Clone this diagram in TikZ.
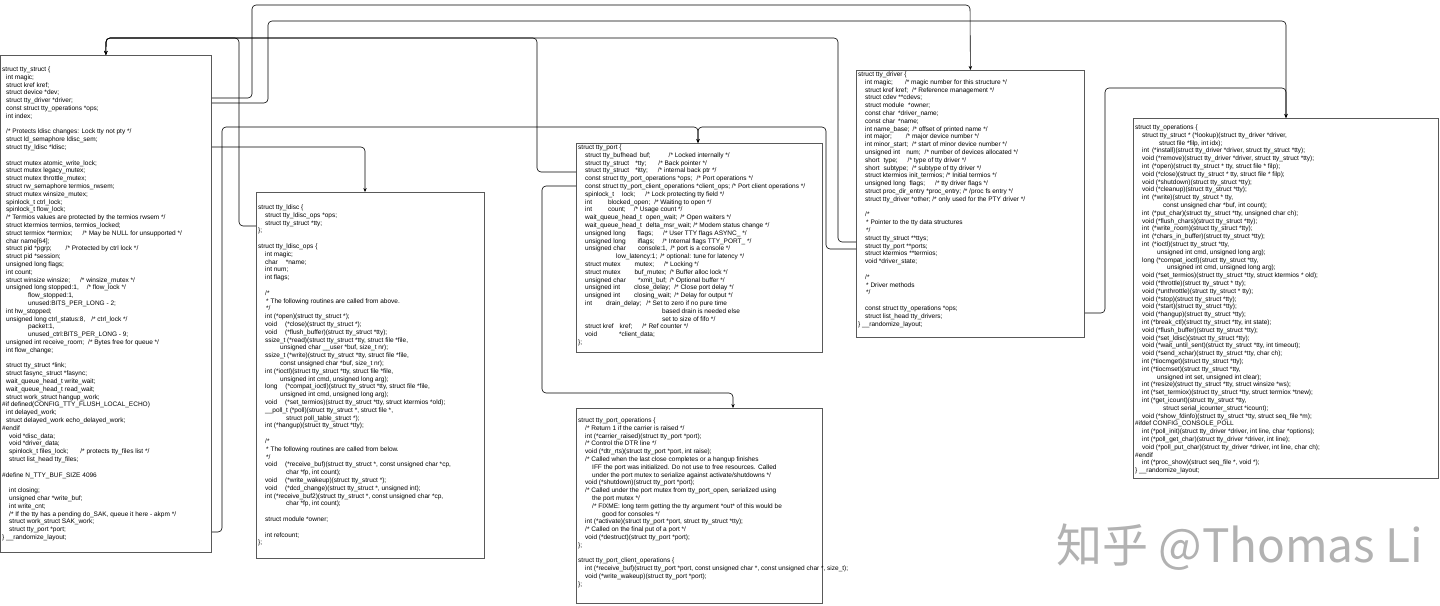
\documentclass[tikz,border=0pt]{standalone}
\usepackage{fontspec}
\setmainfont{Liberation Sans}
\newfontfamily\cjkwm{Noto Sans CJK SC}
\usetikzlibrary{arrows.meta}
\newcommand{\hs}[1]{\hspace*{#1pt}}
\newcommand{\IN}{\hspace*{7pt}}
\renewcommand{\u}{\_}
\begin{document}
\begin{tikzpicture}[x=1pt,y=-1pt,
  box/.style={draw=black!65,line width=0.8pt,fill=white,inner sep=0pt},
  code/.style={anchor=north west,inner sep=0pt,align=left,font=\fontsize{6.5}{7.8}\selectfont},
  link/.style={draw=black,line width=0.6pt,rounded corners=4pt,-{Stealth[length=4pt,width=3.4pt]}}]
\useasboundingbox[fill=white] (0,0) rectangle (1440,605);

% boxes
\node[box,minimum width=211pt,minimum height=497pt,anchor=north west] (ts) at (0,55) {};
\node[box,minimum width=228pt,minimum height=366pt,anchor=north west] (ld) at (256,192) {};
\node[box,minimum width=246pt,minimum height=209pt,anchor=north west] (tp) at (576,143) {};
\node[box,minimum width=246pt,minimum height=195pt,anchor=north west] (tpo) at (576,408) {};
\node[box,minimum width=228pt,minimum height=267pt,anchor=north west] (td) at (856,70) {};
\node[box,minimum width=305pt,minimum height=360pt,anchor=north west] (to) at (1133,118) {};

% tty_struct
\node[code] (tstext) at (2,66.5) {struct tty\u struct \{\\
\hs{4}int magic;\\
\hs{4}struct kref kref;\\
\hs{4}struct device *dev;\\
\hs{4}struct tty\u driver *driver;\\
\hs{4}const struct tty\u operations *ops;\\
\hs{4}int index;\\
\mbox{}\\
\hs{4}/* Protects ldisc changes: Lock tty not pty */\\
\hs{4}struct ld\u semaphore ldisc\u sem;\\
\hs{4}struct tty\u ldisc *ldisc;\\
\mbox{}\\
\hs{4}struct mutex atomic\u write\u lock;\\
\hs{4}struct mutex legacy\u mutex;\\
\hs{4}struct mutex throttle\u mutex;\\
\hs{4}struct rw\u semaphore termios\u rwsem;\\
\hs{4}struct mutex winsize\u mutex;\\
\hs{4}spinlock\u t ctrl\u lock;\\
\hs{4}spinlock\u t flow\u lock;\\
\hs{4}/* Termios values are protected by the termios rwsem */\\
\hs{4}struct ktermios termios, termios\u locked;\\
\hs{4}struct termiox *termiox;\hs{10}/* May be NULL for unsupported */\\
\hs{4}char name[64];\\
\hs{4}struct pid *pgrp;\hs{14}/* Protected by ctrl lock */\\
\hs{4}struct pid *session;\\
\hs{4}unsigned long flags;\\
\hs{4}int count;\\
\hs{4}struct winsize winsize;\hs{10}/* winsize\u mutex */\\
\hs{4}unsigned long stopped:1,\hs{8}/* flow\u lock */\\
\hs{26}flow\u stopped:1,\\
\hs{26}unused:BITS\u PER\u LONG - 2;\\
\hs{4}int hw\u stopped;\\
\hs{4}unsigned long ctrl\u status:8,\hs{6}/* ctrl\u lock */\\
\hs{26}packet:1,\\
\hs{26}unused\u ctrl:BITS\u PER\u LONG - 9;\\
\hs{4}unsigned int receive\u room;\hs{4}/* Bytes free for queue */\\
\hs{4}int flow\u change;\\
\mbox{}\\
\hs{4}struct tty\u struct *link;\\
\hs{4}struct fasync\u struct *fasync;\\
\hs{4}wait\u queue\u head\u t write\u wait;\\
\hs{4}wait\u queue\u head\u t read\u wait;\\
\hs{4}struct work\u struct hangup\u work;\\
\#if defined(CONFIG\u TTY\u FLUSH\u LOCAL\u ECHO)\\
\hs{4}int delayed\u work;\\
\hs{4}struct delayed\u work echo\u delayed\u work;\\
\#endif\\
\hs{7}void *disc\u data;\\
\hs{7}void *driver\u data;\\
\hs{7}spinlock\u t files\u lock;\hs{12}/* protects tty\u files list */\\
\hs{7}struct list\u head tty\u files;\\
\mbox{}\\
\#define N\u TTY\u BUF\u SIZE 4096\\
\mbox{}\\
\hs{7}int closing;\\
\hs{7}unsigned char *write\u buf;\\
\hs{7}int write\u cnt;\\
\hs{7}/* If the tty has a pending do\u SAK, queue it here - akpm */\\
\hs{7}struct work\u struct SAK\u work;\\
\hs{7}struct tty\u port *port;\\
\} \u\u randomize\u layout;};

% tty_ldisc
\node[code] (ldtext) at (258,204.5) {struct tty\u ldisc \{\\
\IN struct tty\u ldisc\u ops *ops;\\
\IN struct tty\u struct *tty;\\
\};\\
\mbox{}\\
struct tty\u ldisc\u ops \{\\
\IN int magic;\\
\IN char\hs{8}*name;\\
\IN int num;\\
\IN int flags;\\
\mbox{}\\
\IN /*\\
\hs{8}* The following routines are called from above.\\
\hs{8}*/\\
\IN int (*open)(struct tty\u struct *);\\
\IN void\hs{8}(*close)(struct tty\u struct *);\\
\IN void\hs{8}(*flush\u buffer)(struct tty\u struct *tty);\\
\IN ssize\u t (*read)(struct tty\u struct *tty, struct file *file,\\
\hs{22}unsigned char \u\u user *buf, size\u t nr);\\
\IN ssize\u t (*write)(struct tty\u struct *tty, struct file *file,\\
\hs{22}const unsigned char *buf, size\u t nr);\\
\IN int (*ioctl)(struct tty\u struct *tty, struct file *file,\\
\hs{22}unsigned int cmd, unsigned long arg);\\
\IN long\hs{8}(*compat\u ioctl)(struct tty\u struct *tty, struct file *file,\\
\hs{22}unsigned int cmd, unsigned long arg);\\
\IN void\hs{8}(*set\u termios)(struct tty\u struct *tty, struct ktermios *old);\\
\IN \u\u poll\u t (*poll)(struct tty\u struct *, struct file *,\\
\hs{28}struct poll\u table\u struct *);\\
\IN int (*hangup)(struct tty\u struct *tty);\\
\mbox{}\\
\IN /*\\
\hs{8}* The following routines are called from below.\\
\hs{8}*/\\
\IN void\hs{8}(*receive\u buf)(struct tty\u struct *, const unsigned char *cp,\\
\hs{28}char *fp, int count);\\
\IN void\hs{8}(*write\u wakeup)(struct tty\u struct *);\\
\IN void\hs{8}(*dcd\u change)(struct tty\u struct *, unsigned int);\\
\IN int (*receive\u buf2)(struct tty\u struct *, const unsigned char *cp,\\
\hs{28}char *fp, int count);\\
\mbox{}\\
\IN struct\hs{2}module *owner;\\
\mbox{}\\
\IN int refcount;\\
\};};

% tty_port
\node[code] (tptext) at (578,144.5) {struct tty\u port \{\\
\IN struct tty\u bufhead\hs{3}buf;\hs{18}/* Locked internally */\\
\IN struct tty\u struct\hs{6}*tty;\hs{12}/* Back pointer */\\
\IN struct tty\u struct\hs{6}*itty;\hs{10}/* internal back ptr */\\
\IN const struct tty\u port\u operations *ops;\hs{4}/* Port operations */\\
\IN const struct tty\u port\u client\u operations *client\u ops; /* Port client operations */\\
\IN spinlock\u t\hs{8}lock;\hs{10}/* Lock protecting tty field */\\
\IN int\hs{16}blocked\u open;\hs{4}/* Waiting to open */\\
\IN int\hs{16}count;\hs{8}/* Usage count */\\
\IN wait\u queue\u head\u t\hs{4}open\u wait;\hs{3}/* Open waiters */\\
\IN wait\u queue\u head\u t\hs{4}delta\u msr\u wait; /* Modem status change */\\
\IN unsigned long\hs{12}flags;\hs{10}/* User TTY flags ASYNC\u\ */\\
\IN unsigned long\hs{12}iflags;\hs{8}/* Internal flags TTY\u PORT\u\ */\\
\IN unsigned char\hs{12}console:1,\hs{3}/* port is a console */\\
\hs{38}low\u latency:1;\hs{3}/* optional: tune for latency */\\
\IN struct mutex\hs{14}mutex;\hs{10}/* Locking */\\
\IN struct mutex\hs{14}buf\u mutex;\hs{3}/* Buffer alloc lock */\\
\IN unsigned char\hs{12}*xmit\u buf;\hs{3}/* Optional buffer */\\
\IN unsigned int\hs{14}close\u delay;\hs{4}/* Close port delay */\\
\IN unsigned int\hs{14}closing\u wait;\hs{3}/* Delay for output */\\
\IN int\hs{14}drain\u delay;\hs{5}/* Set to zero if no pure time\\
\hs{84}based drain is needed else\\
\hs{84}set to size of fifo */\\
\IN struct kref\hs{6}kref;\hs{10}/* Ref counter */\\
\IN void\hs{22}*client\u data;\\
\};};

% tty_port_operations
\node[code] (tpotext) at (578,417.5) {struct tty\u port\u operations \{\\
\IN /* Return 1 if the carrier is raised */\\
\IN int (*carrier\u raised)(struct tty\u port *port);\\
\IN /* Control the DTR line */\\
\IN void (*dtr\u rts)(struct tty\u port *port, int raise);\\
\IN /* Called when the last close completes or a hangup finishes\\
\hs{14}IFF the port was initialized. Do not use to free resources. Called\\
\hs{14}under the port mutex to serialize against activate/shutdowns */\\
\IN void (*shutdown)(struct tty\u port *port);\\
\IN /* Called under the port mutex from tty\u port\u open, serialized using\\
\hs{14}the port mutex */\\
\hs{14}/* FIXME: long term getting the tty argument *out* of this would be\\
\hs{24}good for consoles */\\
\IN int (*activate)(struct tty\u port *port, struct tty\u struct *tty);\\
\IN /* Called on the final put of a port */\\
\IN void (*destruct)(struct tty\u port *port);\\
\};\\
\mbox{}\\
struct tty\u port\u client\u operations \{\\
\IN int (*receive\u buf)(struct tty\u port *port, const unsigned char *, const unsigned char *, size\u t);\\
\IN void (*write\u wakeup)(struct tty\u port *port);\\
\};};

% tty_driver
\node[code] (tdtext) at (858,71.5) {struct tty\u driver \{\\
\IN int magic;\hs{12}/* magic number for this structure */\\
\IN struct kref kref;\hs{4}/* Reference management */\\
\IN struct cdev **cdevs;\\
\IN struct module\hs{4}*owner;\\
\IN const char\hs{3}*driver\u name;\\
\IN const char\hs{3}*name;\\
\IN int name\u base;\hs{3}/* offset of printed name */\\
\IN int major;\hs{14}/* major device number */\\
\IN int minor\u start;\hs{4}/* start of minor device number */\\
\IN unsigned int\hs{6}num;\hs{4}/* number of devices allocated */\\
\IN short\hs{4}type;\hs{10}/* type of tty driver */\\
\IN short\hs{4}subtype;\hs{4}/* subtype of tty driver */\\
\IN struct ktermios init\u termios; /* Initial termios */\\
\IN unsigned long\hs{4}flags;\hs{10}/* tty driver flags */\\
\IN struct proc\u dir\u entry *proc\u entry; /* /proc fs entry */\\
\IN struct tty\u driver *other; /* only used for the PTY driver */\\
\mbox{}\\
\IN /*\\
\hs{8}* Pointer to the tty data structures\\
\hs{8}*/\\
\IN struct tty\u struct **ttys;\\
\IN struct tty\u port **ports;\\
\IN struct ktermios **termios;\\
\IN void *driver\u state;\\
\mbox{}\\
\IN /*\\
\hs{8}* Driver methods\\
\hs{8}*/\\
\mbox{}\\
\IN const struct tty\u operations *ops;\\
\IN struct list\u head tty\u drivers;\\
\} \u\u randomize\u layout;};

% tty_operations
\node[code] (totext) at (1135,124.5) {struct tty\u operations \{\\
\IN struct tty\u struct * (*lookup)(struct tty\u driver *driver,\\
\hs{24}struct file *filp, int idx);\\
\IN int\hs{3}(*install)(struct tty\u driver *driver, struct tty\u struct *tty);\\
\IN void (*remove)(struct tty\u driver *driver, struct tty\u struct *tty);\\
\IN int\hs{3}(*open)(struct tty\u struct * tty, struct file * filp);\\
\IN void (*close)(struct tty\u struct * tty, struct file * filp);\\
\IN void (*shutdown)(struct tty\u struct *tty);\\
\IN void (*cleanup)(struct tty\u struct *tty);\\
\IN int\hs{3}(*write)(struct tty\u struct * tty,\\
\hs{28}const unsigned char *buf, int count);\\
\IN int\hs{3}(*put\u char)(struct tty\u struct *tty, unsigned char ch);\\
\IN void (*flush\u chars)(struct tty\u struct *tty);\\
\IN int\hs{3}(*write\u room)(struct tty\u struct *tty);\\
\IN int\hs{3}(*chars\u in\u buffer)(struct tty\u struct *tty);\\
\IN int\hs{3}(*ioctl)(struct tty\u struct *tty,\\
\hs{22}unsigned int cmd, unsigned long arg);\\
\IN long (*compat\u ioctl)(struct tty\u struct *tty,\\
\hs{32}unsigned int cmd, unsigned long arg);\\
\IN void (*set\u termios)(struct tty\u struct *tty, struct ktermios * old);\\
\IN void (*throttle)(struct tty\u struct * tty);\\
\IN void (*unthrottle)(struct tty\u struct * tty);\\
\IN void (*stop)(struct tty\u struct *tty);\\
\IN void (*start)(struct tty\u struct *tty);\\
\IN void (*hangup)(struct tty\u struct *tty);\\
\IN int (*break\u ctl)(struct tty\u struct *tty, int state);\\
\IN void (*flush\u buffer)(struct tty\u struct *tty);\\
\IN void (*set\u ldisc)(struct tty\u struct *tty);\\
\IN void (*wait\u until\u sent)(struct tty\u struct *tty, int timeout);\\
\IN void (*send\u xchar)(struct tty\u struct *tty, char ch);\\
\IN int (*tiocmget)(struct tty\u struct *tty);\\
\IN int (*tiocmset)(struct tty\u struct *tty,\\
\hs{22}unsigned int set, unsigned int clear);\\
\IN int (*resize)(struct tty\u struct *tty, struct winsize *ws);\\
\IN int (*set\u termiox)(struct tty\u struct *tty, struct termiox *tnew);\\
\IN int (*get\u icount)(struct tty\u struct *tty,\\
\hs{28}struct serial\u icounter\u struct *icount);\\
\IN void (*show\u fdinfo)(struct tty\u struct *tty, struct seq\u file *m);\\
\#ifdef CONFIG\u CONSOLE\u POLL\\
\IN int (*poll\u init)(struct tty\u driver *driver, int line, char *options);\\
\IN int (*poll\u get\u char)(struct tty\u driver *driver, int line);\\
\IN void (*poll\u put\u char)(struct tty\u driver *driver, int line, char ch);\\
\#endif\\
\IN int (*proc\u show)(struct seq\u file *, void *);\\
\} \u\u randomize\u layout;};

% watermark
\node[anchor=west,inner sep=0pt,text=black!30,font=\cjkwm\fontsize{46}{50}\selectfont] (wm) at (1056,547) {知乎 @Thomas Li};

% connectors
\coordinate (hub) at (106,38);
\draw[link] (ts.north east |- 0,98) -- (252,98) -- (252,5) -- (970,5) -- (td.north);
\draw[link] (ts.north east |- 0,103) -- (268,103) -- (268,21) -- (1286,21) -- (1286,118);
\draw[link] (ts.north east |- 0,147) -- (365,147) -- (365,192);
\draw[link] (ts.north east |- 0,532) -- (222,532) -- (222,127) -- (698,127) -- (698,143);
\draw[link] (td.north west |- 0,249) -- (826,249) -- (826,127) -- (698,127) -- (698,143);
\draw[link] (ld.north west |- 0,226) -- (239,226) -- (239,38) -- (hub) -- (ts.north);
\draw[link] (tp.north west |- 0,172) -- (537,172) -- (537,38) -- (hub) -- (ts.north);
\draw[link] (td.north west |- 0,242) -- (838,242) -- (838,38) -- (hub) -- (ts.north);
\draw[link] (tp.north west |- 0,186) -- (542,186) -- (542,393) -- (733,393) -- (733,408);
\draw[link] (td.north east |- 0,313) -- (1105,313) -- (1105,88) -- (1286,88) -- (1286,118);
\end{tikzpicture}
\end{document}
